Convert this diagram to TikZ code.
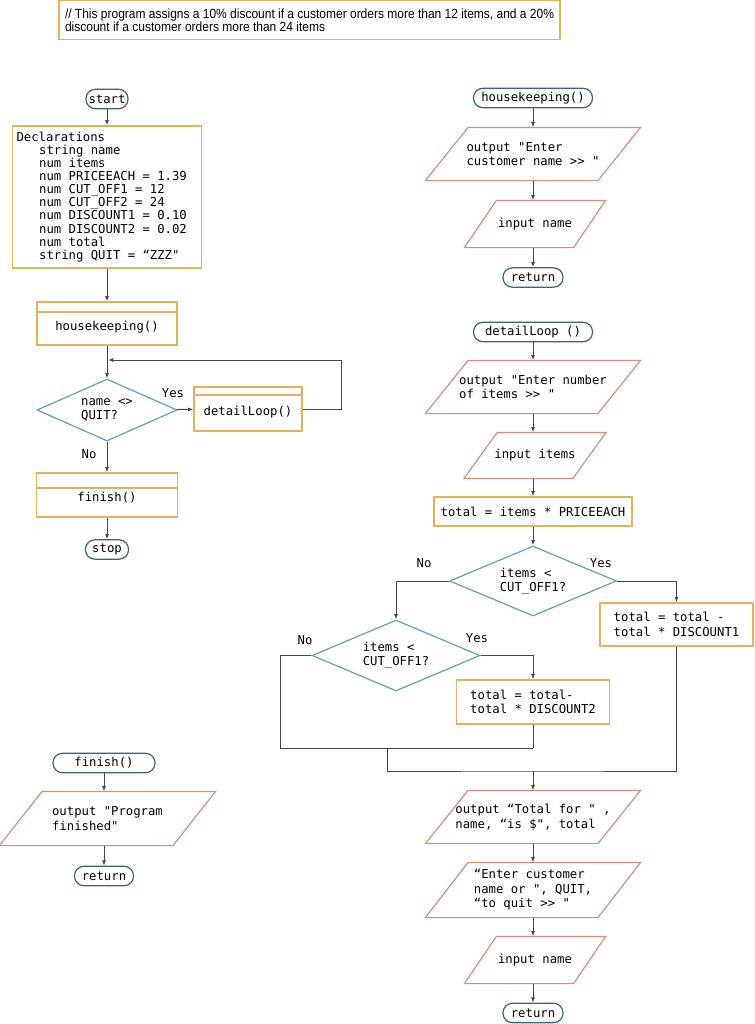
\documentclass[tikz,border=0pt]{standalone}
\usepackage{fontspec}
\setmonofont{DejaVu Sans Mono}
\newfontfamily\notefont[FakeStretch=0.9]{Liberation Sans}
\usetikzlibrary{shapes.geometric,arrows.meta}
\definecolor{termcol}{HTML}{3B6377}
\definecolor{proccol}{HTML}{E3B25A}
\definecolor{iocol}{HTML}{D38F7B}
\definecolor{deccol}{HTML}{5FA6A3}
\definecolor{linecol}{HTML}{454545}
\newcommand{\declindent}{\hspace*{17pt}}
\tikzset{
  base/.style={line width=0.9pt, font=\fontsize{9.2}{10.8}\selectfont\ttfamily, inner sep=0pt, align=flush left},
  term/.style={base, draw=termcol, rectangle, rounded corners=7pt, minimum height=14.5pt},
  proc/.style={base, draw=proccol, rectangle},
  modbox/.style={proc, text height=12.5pt, text depth=2.5pt,
    path picture={\draw[proccol, line width=0.9pt]
      ([yshift=-#1]path picture bounding box.north west) --
      ([yshift=-#1]path picture bounding box.north east);}},
  io/.style={base, rectangle},
  dec/.style={base, draw=deccol, diamond, aspect=2.3},
  lbl/.style={font=\fontsize{9.2}{10.8}\selectfont\ttfamily, inner sep=0pt},
}
\begin{document}
\begin{tikzpicture}[x=0.75pt, y=-0.75pt, >={Latex[length=4pt,width=3pt]}]
  \useasboundingbox (0,0) rectangle (754,1024);
  \node[proc, text width=366.75pt, inner xsep=4.5pt, minimum height=29.25pt,
    font=\notefont\fontsize{10}{9.8}\selectfont] (note) at (309.5,19.8)
    {// This program assigns a 10\% discount if a customer orders more than 12 items, and a 20\%\\discount if a customer orders more than 24 items};

  \node[term, minimum width=31.5pt] (start) at (107,99) {start};
  \node[proc, text width=135.75pt, inner xsep=3pt, minimum height=106.5pt,
    font=\fontsize{9.2}{9.8}\selectfont\ttfamily] (decl) at (107,197)
    {Declarations\\
     \declindent string name\\
     \declindent num items\\
     \declindent num PRICEEACH = 1.39\\
     \declindent num CUT\_OFF1 = 12\\
     \declindent num CUT\_OFF2 = 24\\
     \declindent num DISCOUNT1 = 0.10\\
     \declindent num DISCOUNT2 = 0.02\\
     \declindent num total\\
     \declindent string QUIT = “ZZZ"};
  \node[modbox=7.5pt, minimum width=105pt, minimum height=32.25pt] (hk) at (107,323.5) {housekeeping()};
  \node[dec, minimum width=105pt, minimum height=46.5pt] (ask) at (107,410) {name <>\\QUIT?};
  \node[modbox=6pt, minimum width=81pt, minimum height=33pt] (dl) at (248,409) {detailLoop()};
  \node[modbox=11.25pt, minimum width=105.75pt, minimum height=33pt] (fin) at (107,495) {finish()};
  \node[term, minimum width=32.25pt] (stop) at (107,549.5) {stop};
  \coordinate (j1) at (108,360);

  \node[term, minimum width=76.5pt] (fin2) at (104,763) {finish()};
  \node[io, minimum width=161.25pt, minimum height=39.75pt] (out3) at (107.5,818.5) {output "Program\\finished"};
  \node[term, minimum width=44.25pt] (ret3) at (104,876) {return};

  \node[term, minimum width=89.25pt] (hk2) at (533,98) {housekeeping()};
  \node[io, minimum width=160.5pt, minimum height=39pt] (out1) at (533,154) {output "Enter\\customer name >> "};
  \node[io, minimum width=105pt, minimum height=34.5pt] (in1) at (535,224) {input name};
  \node[term, minimum width=45pt] (ret1) at (533,277.5) {return};

  \node[term, minimum width=89.25pt] (dl2) at (533,332) {detailLoop ()};
  \node[io, minimum width=160.5pt, minimum height=39pt] (out2) at (533,387) {output "Enter number\\of items >> "};
  \node[io, minimum width=105.75pt, minimum height=33.75pt] (in2) at (535,455.5) {input items};
  \node[proc, minimum width=148.5pt, minimum height=21.75pt] (calc) at (533,511.5) {total = items * PRICEEACH};
  \node[dec, minimum width=125.25pt, minimum height=52.5pt] (cut1) at (533,581) {items <\\CUT\_OFF1?};
  \node[proc, minimum width=114.75pt, minimum height=32.25pt] (disc1) at (676.5,624.5) {total = total -\\total * DISCOUNT1};
  \node[dec, minimum width=126pt, minimum height=53.25pt] (cut2) at (396,655.5) {items <\\CUT\_OFF1?};
  \node[proc, minimum width=114.75pt, minimum height=33pt] (disc2) at (533,702) {total = total-\\total * DISCOUNT2};
  \coordinate (m1) at (533,748);
  \coordinate (m2) at (533,771);
  \coordinate (m3) at (387,748);
  \node[io, minimum width=160.5pt, minimum height=39pt] (out4) at (533,817) {output “Total for " ,\\name, “is \$", total};
  \node[io, minimum width=160.5pt, minimum height=40.5pt] (ask2) at (533,890) {“Enter customer\\name or ", QUIT,\\“to quit >> "};
  \node[io, minimum width=105pt, minimum height=34.5pt] (in3) at (535,960) {input name};
  \node[term, minimum width=45pt] (ret2) at (533,1013) {return};

  \foreach \n/\s in {out1/32, out2/32, out3/32, out4/32, ask2/32, in1/24, in2/25, in3/24}
    \draw[iocol, line width=0.9pt] ([xshift=\s pt]\n.north west) -- (\n.north east)
      -- ([xshift=-\s pt]\n.south east) -- (\n.south west) -- cycle;

  \node[lbl] (yes1) at (173,393) {Yes};
  \node[lbl] (no1) at (89,454) {No};
  \node[lbl] (no2) at (424,563) {No};
  \node[lbl] (yes2) at (601,563) {Yes};
  \node[lbl] (no3) at (305,640) {No};
  \node[lbl] (yes3) at (477,638) {Yes};

  \begin{scope}[->, draw=linecol, line width=0.75pt]
    \draw (start) to (decl);
    \draw (decl) to (hk);
    \draw (hk) to (ask);
    \draw (ask) to (dl);
    \draw (dl.east) -- ++(39,0) |- (j1);
    \draw (ask) to (fin);
    \draw (fin) to (stop);
    \draw (fin2) to (fin2 |- out3.north);
    \draw (fin2 |- out3.south) to (ret3);
    \draw (hk2) to (out1);
    \draw (out1) to (out1 |- in1.north);
    \draw (out1 |- in1.south) to (ret1);
    \draw (dl2) to (out2);
    \draw (out2) to (out2 |- in2.north);
    \draw (out2 |- in2.south) to (calc);
    \draw (calc) to (cut1);
    \draw (cut1.west) -| (cut2.north);
    \draw (cut1.east) -| (disc1.north);
    \draw (cut2.east) -| (disc2.north);
    \draw[-] (cut2.west) -- ++(-31,0) |- (m1);
    \draw[-] (disc2) to (m1);
    \draw[-] (m3) |- (m2) -| (disc1);
    \draw (m2) to (out4);
    \draw (out4) to (ask2);
    \draw (ask2) to (ask2 |- in3.north);
    \draw (ask2 |- in3.south) to (ret2);
  \end{scope}
\end{tikzpicture}
\end{document}
